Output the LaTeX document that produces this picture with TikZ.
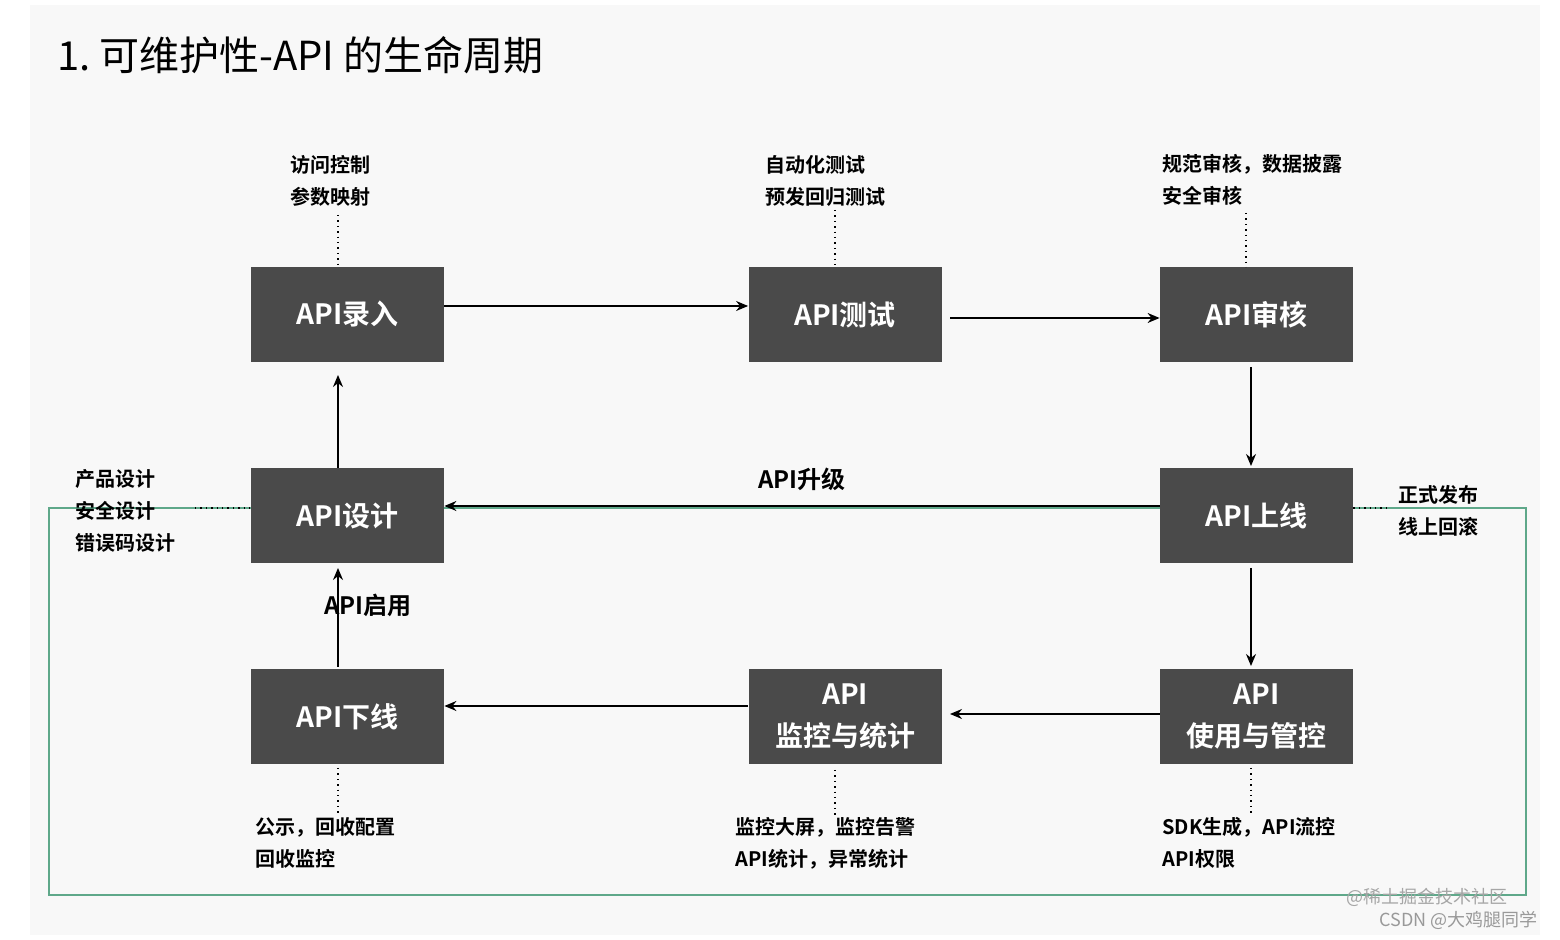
\documentclass[tikz,border=0pt]{standalone}
\usepackage{fontspec}
\setmainfont{Noto Sans CJK SC}
\newfontfamily\cjkb{Noto Sans CJK SC Bold}
\usetikzlibrary{arrows.meta}
\definecolor{boxc}{HTML}{4A4A4A}
\definecolor{bgc}{HTML}{F8F8F8}
\definecolor{grn}{HTML}{5FA88A}
\tikzset{
 api/.style={draw=none,fill=boxc,text=white,font=\cjkb\fontsize{14}{17}\selectfont,minimum width=96.5pt,minimum height=47.5pt,align=center,inner sep=0pt},
 lbl/.style={font=\cjkb\fontsize{10}{16}\selectfont,align=left,anchor=west,inner sep=0pt},
 arr/.style={-{Stealth[length=6pt,width=5pt]},line width=0.7pt},
 dot/.style={dotted,line width=0.7pt}
}
\begin{document}
\begin{tikzpicture}[x=0.5pt,y=-0.5pt]
\useasboundingbox (0,0) rectangle (1560,940);
\fill[white] (0,0) rectangle (1560,940);
\fill[bgc] (30,5) rectangle (1540,935);
\node[anchor=west,font=\fontsize{20}{24}\selectfont] (title) at (50,55) {1.\ 可维护性-API 的生命周期};
\draw[grn,line width=0.6pt] (49,508) rectangle (1526,895);
\node[api] (lr) at (347.5,314.5) {API录入};
\node[api] (cs) at (845,314.5) {API测试};
\node[api] (sh) at (1256.5,314.5) {API审核};
\node[api] (sj) at (347.5,515.5) {API设计};
\node[api] (sx) at (1256.5,515.5) {API上线};
\node[api] (xx) at (347.5,716.5) {API下线};
\node[api,font=\cjkb\fontsize{14}{21}\selectfont] (jk) at (845,716.5) {API\\监控与统计};
\node[api,font=\cjkb\fontsize{14}{21}\selectfont] (sy) at (1256.5,716.5) {API\\使用与管控};
% labels
\node[lbl] (l1) at (290,181) {访问控制\\参数映射};
\node[lbl] (l2) at (765,181) {自动化测试\\预发回归测试};
\node[lbl] (l3) at (1162,180) {规范审核，数据披露\\安全审核};
\node[lbl] (l4) at (75,511) {产品设计\\安全设计\\错误码设计};
\node[lbl] (l5) at (1398,511) {正式发布\\线上回滚};
\node[lbl] (l6) at (255,843) {公示，回收配置\\回收监控};
\node[lbl] (l7) at (735,843) {监控大屏，监控告警\\API统计，异常统计};
\node[lbl] (l8) at (1162,843) {SDK生成，API流控\\API权限};
% dotted
\coordinate (d1) at (338,215); \draw[dot] (d1) -- (338,267);
\coordinate (d2) at (835,210); \draw[dot] (d2) -- (835,267);
\coordinate (d3) at (1246,213); \draw[dot] (d3) -- (1246,267);
\coordinate (d4) at (195,508); \draw[dot] (d4) -- (sj.west|-d4);
\coordinate (d5) at (1390,508); \draw[dot] (sx.east|-d5) -- (d5);
\coordinate (d6) at (338,815); \draw[dot] (338,768) -- (d6);
\coordinate (d7) at (835,815); \draw[dot] (835,770) -- (d7);
\coordinate (d8) at (1251,815); \draw[dot] (1251,768) -- (d8);
% arrows
\draw[arr] (lr.east|-0,306) -- (cs.west|-0,306);
\draw[arr] (950,318) -- (sh.west|-0,318);
\draw[arr] (1251,367) -- (1251,466);
\draw[arr] (sx.west|-0,506) -- (sj.east|-0,506) node[midway,above=4pt,font=\cjkb\fontsize{12}{14}\selectfont] (up) {API升级};
\draw[arr] (1251,568) -- (1251,666);
\draw[arr] (sy.west|-0,714) -- (950,714);
\draw[arr] (jk.west|-0,706) -- (xx.east|-0,706);
\draw[arr] (338,667) -- (338,568);
\node[font=\cjkb\fontsize{12}{14}\selectfont] (qy) at (368,605) {API启用};
\draw[arr] (338,468) -- (338,375);
\node[anchor=east,text=gray!70,font=\fontsize{9}{10}\selectfont] (wm1) at (1515,897) {@稀土掘金技术社区};
\node[anchor=east,text=gray!80,font=\fontsize{9}{10}\selectfont] (wm2) at (1545,920) {CSDN @大鸡腿同学};
\end{tikzpicture}
\end{document}
